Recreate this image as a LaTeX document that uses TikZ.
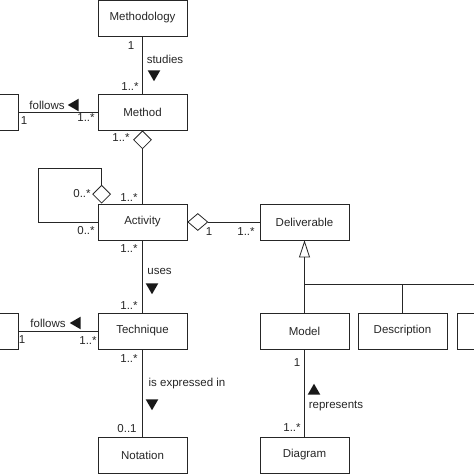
\documentclass[tikz,border=0pt]{standalone}
\usepackage{fontspec}
\setmainfont{Liberation Sans}
\usetikzlibrary{positioning, shapes.geometric, arrows.meta}

\begin{document}
\begin{tikzpicture}[
  x=1pt, y=1pt,
  >=Stealth,
  every node/.style={font=\fontsize{11.5}{13}\selectfont, text=black!85},
  cls/.style={draw=black!85, line width=0.8pt, minimum width=89pt, minimum height=36pt, inner sep=0pt},
  agg/.style={diamond, draw=black!85, line width=0.8pt, fill=white, minimum width=18pt, minimum height=18pt, inner sep=0pt},
  dir/.style={regular polygon, regular polygon sides=3, fill=black!90, inner sep=0pt, minimum size=14.5pt},
  assoc/.style={draw=black!85, line width=0.8pt}
]
\clip (0,0) rectangle (474,474);

% Classes
\node[cls] (methodology) at (142.5,456) {Methodology};
\node[cls] (method) at (142.5,362) {Method};
\node[cls] (activity) at (142.5,252) {Activity};
\node[cls] (technique) at (142.5,143) {Technique};
\node[cls] (notation) at (142.5,19) {Notation};
\node[cls] (deliverable) at (304.5,252) {Deliverable};
\node[cls] (model) at (304.5,143) {Model};
\node[cls] (description) at (402.5,143) {Description};
\node[cls] (other) at (501.5,143) {};
\node[cls] (diagram) at (304.5,19) {Diagram};
\node[cls] (leftA) at (-26.5,362) {};
\node[cls] (leftB) at (-26.5,143) {};

% Methodology studies Method
\draw[assoc] (methodology) -- (method);
\node (m1) at (131,428) {1};
\node (studies) at (165,415) {studies};
\node[dir, rotate=180] (t1) at (154,400) {};
\node (m2) at (130,387) {1..*};

% Method follows
\draw[assoc] (leftA) -- (method);
\node (follows1) at (47,369) {follows};
\node[dir, rotate=90] (t2) at (75,369) {};
\node (m3) at (24,353) {1};
\node (m4) at (86,356) {1..*};

% Method aggregates Activity
\node[agg, anchor=north] (d1) at (method.south) {};
\draw[assoc] (d1.south) -- (activity.north);
\node (m5) at (121,336) {1..*};
\node (m6) at (129,276) {1..*};

% Activity self aggregation
\node[agg, anchor=south] (d2) at ([xshift=4pt]activity.north west) {};
\coordinate (loop) at (38,306);
\draw[assoc] (d2.north) |- (loop) |- (activity.west);
\node (m7) at (82,280) {0..*};
\node (m8) at (86,243) {0..*};

% Activity aggregates Deliverable
\node[agg, anchor=west, minimum width=20pt, minimum height=17pt] (d3) at (activity.east) {};
\draw[assoc] (d3.east) -- (deliverable.west);
\node (m9) at (209,242) {1};
\node (m10) at (246,242) {1..*};

% Activity uses Technique
\draw[assoc] (activity) -- (technique);
\node (m11) at (129,225) {1..*};
\node (uses) at (159.5,203) {uses};
\node[dir, rotate=180] (t3) at (152,187) {};
\node (m12) at (129,168) {1..*};

% Technique follows
\draw[assoc] (leftB) -- (technique);
\node (follows2) at (48,151) {follows};
\node[dir, rotate=90] (t4) at (77,151) {};
\node (m13) at (22,134) {1};
\node (m14) at (88,133) {1..*};

% Technique is expressed in Notation
\draw[assoc] (technique) -- (notation);
\node (m15) at (129,115) {1..*};
\node (expressed) at (187,90) {is expressed in};
\node[dir, rotate=180] (t5) at (152,71) {};
\node (m16) at (127,45) {0..1};

% Generalization of Deliverable
\coordinate (bar) at (304.5,190);
\draw[assoc, -{Triangle[open, length=17pt, width=11pt]}] (model.north) -- (deliverable.south);
\draw[assoc] (description.north) |- (bar);
\draw[assoc] (other.north) |- (bar);

% Diagram represents Model
\draw[assoc] (model) -- (diagram);
\node (m17) at (297,111) {1};
\node[dir] (t6) at (314,83) {};
\node (represents) at (336,68) {represents};
\node (m18) at (292,46) {1..*};

\end{tikzpicture}
\end{document}
